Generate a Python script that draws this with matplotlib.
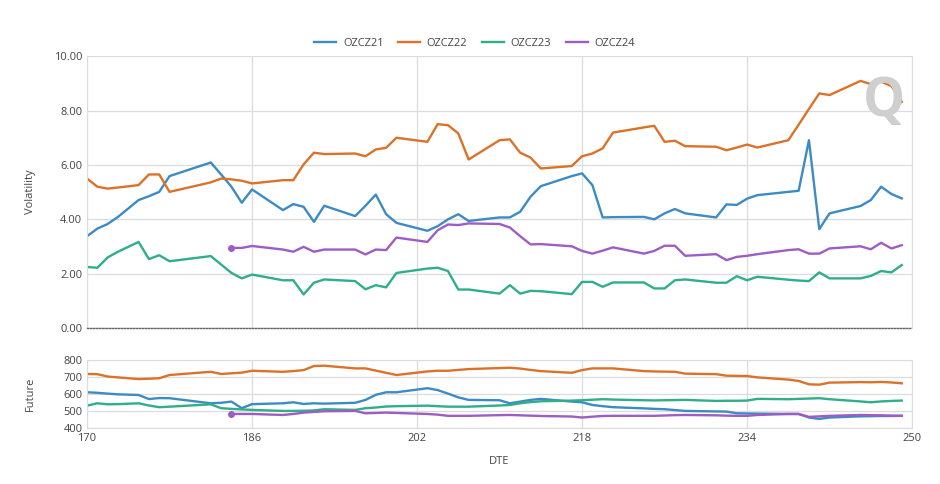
import numpy as np
import matplotlib

matplotlib.use("Agg")
from matplotlib import pyplot as plt

nan = np.nan

# trading days (days to expiry)
dte = [170, 171, 172, 173, 175, 176, 177, 178, 182, 183, 184, 185, 186, 189, 190, 191, 192, 193,
       196, 197, 198, 199, 200, 203, 204, 205, 206, 207, 210, 211, 212, 213, 214, 217, 218, 219,
       220, 221, 224, 225, 226, 227, 228, 231, 232, 233, 234, 235, 238, 239, 240, 241, 242, 245,
       246, 247, 248, 249]

series_names = ["OZCZ21", "OZCZ22", "OZCZ23", "OZCZ24"]

# implied volatility
vol_z21 = [3.38, 3.66, 3.83, 4.09, 4.71, 4.85, 5.01, 5.59, 6.09, 5.65, 5.20, 4.61, 5.10, 4.34, 4.56,
           4.46, 3.91, 4.50, 4.12, 4.50, 4.91, 4.19, 3.87, 3.58, 3.75, 4.00, 4.19, 3.94, 4.07, 4.07,
           4.28, 4.83, 5.22, 5.59, 5.69, 5.26, 4.07, 4.08, 4.09, 4.00, 4.22, 4.38, 4.22, 4.07, 4.55,
           4.53, 4.76, 4.89, 5.01, 5.05, 6.91, 3.64, 4.22, 4.49, 4.71, 5.20, 4.93, 4.77]
vol_z22 = [5.50, 5.20, 5.13, 5.17, 5.26, 5.65, 5.65, 5.01, 5.36, 5.50, 5.47, 5.42, 5.32, 5.44, 5.44,
           6.02, 6.45, 6.40, 6.42, 6.32, 6.57, 6.63, 7.00, 6.85, 7.50, 7.46, 7.16, 6.20, 6.91, 6.94,
           6.45, 6.27, 5.87, 5.96, 6.32, 6.42, 6.61, 7.19, 7.38, 7.44, 6.85, 6.89, 6.69, 6.67, 6.54,
           6.64, 6.75, 6.64, 6.91, 7.48, 8.06, 8.63, 8.57, 9.09, 8.97, 9.06, 8.90, 8.32]
vol_z23 = [2.25, 2.22, 2.60, 2.81, 3.17, 2.54, 2.68, 2.46, 2.65, 2.34, 2.03, 1.83, 1.97, 1.76, 1.76,
           1.24, 1.67, 1.79, 1.73, 1.43, 1.58, 1.50, 2.03, 2.19, 2.22, 2.10, 1.42, 1.42, 1.27, 1.58,
           1.27, 1.37, 1.36, 1.25, 1.70, 1.70, 1.52, 1.68, 1.68, 1.46, 1.46, 1.76, 1.79, 1.67, 1.67,
           1.91, 1.76, 1.89, 1.78, 1.75, 1.73, 2.05, 1.83, 1.83, 1.92, 2.10, 2.05, 2.32]
vol_z24 = [nan, nan, nan, nan, nan, nan, nan, nan, nan, nan, 2.95, 2.95, 3.02, 2.89, 2.81,
           2.99, 2.81, 2.89, 2.89, 2.71, 2.89, 2.87, 3.33, 3.17, 3.60, 3.81, 3.79, 3.85, 3.83, 3.70,
           3.38, 3.08, 3.09, 3.01, 2.84, 2.74, 2.85, 2.97, 2.74, 2.84, 3.03, 3.03, 2.66, 2.72, 2.50,
           2.62, 2.66, 2.72, 2.87, 2.90, 2.74, 2.74, 2.93, 3.01, 2.90, 3.14, 2.93, 3.05]

# futures price
fut_z21 = [610, 607, 602, 598, 594, 570, 576, 575, 545, 548, 555, 516, 540, 545, 551, 541, 545, 543,
           548, 565, 595, 610, 610, 634, 623, 602, 580, 565, 563, 545, 555, 565, 571, 555, 551, 535,
           528, 522, 515, 512, 510, 505, 500, 497, 496, 486, 485, 484, 482, 482, 461, 453, 461, 468,
           469, 470, 470, 471]
fut_z22 = [718, 717, 703, 698, 688, 690, 693, 712, 731, 718, 722, 726, 737, 731, 735, 741, 765, 767,
           751, 751, 738, 725, 712, 733, 737, 737, 742, 747, 753, 755, 750, 742, 735, 725, 741, 751,
           751, 751, 735, 733, 732, 731, 720, 717, 708, 707, 706, 698, 685, 677, 657, 655, 667, 670,
           669, 671, 668, 663]
fut_z23 = [531, 545, 539, 540, 545, 532, 522, 525, 539, 516, 512, 509, 506, 500, 500, 501, 503, 510,
           506, 516, 520, 526, 528, 531, 528, 525, 525, 525, 532, 535, 545, 552, 557, 561, 563, 566,
           569, 567, 563, 562, 563, 564, 565, 559, 560, 560, 561, 571, 569, 571, 573, 575, 569, 556,
           551, 556, 559, 561]
fut_z24 = [nan, nan, nan, nan, nan, nan, nan, nan, nan, nan, 482, 482, 482, 476, 482, 490, 494, 498,
           500, 486, 488, 490, 488, 482, 478, 471, 471, 471, 475, 476, 474, 472, 470, 467, 461, 466,
           470, 471, 471, 471, 473, 475, 476, 474, 472, 471, 471, 476, 482, 482, 465, 468, 471, 476,
           475, 474, 472, 471]

colors = ["#3d8bc4", "#db7228", "#2fae8a", "#9d5dc3"]
x_ticks = [170, 186, 202, 218, 234, 250]
vol_ticks = [0, 2, 4, 6, 8, 10]
fut_ticks = [400, 500, 600, 700, 800]

plt.rcParams["font.family"] = ["Open Sans", "DejaVu Sans"]
grid_c = "#dcdcdc"
text_c = "#444444"

fig = plt.figure(figsize=(9.4, 4.84), dpi=100)
ax1 = fig.add_axes([0.0926, 0.322, 0.8777, 0.562])
ax2 = fig.add_axes([0.0926, 0.116, 0.8777, 0.140])

vols = [vol_z21, vol_z22, vol_z23, vol_z24]
futs = [fut_z21, fut_z22, fut_z23, fut_z24]

for name, v, f, c in zip(series_names, vols, futs, colors):
    ax1.plot(dte, v, color=c, lw=1.7, label=name, solid_joinstyle="round")
    ax2.plot(dte, f, color=c, lw=1.7, solid_joinstyle="round")

# OZCZ24 starts later, mark its first point
first = int(np.where(~np.isnan(vol_z24))[0][0])
ax1.plot(dte[first], vol_z24[first], "o", color=colors[3], ms=4)
ax2.plot(dte[first], fut_z24[first], "o", color=colors[3], ms=4)

for ax in (ax1, ax2):
    ax.set_xlim(170, 250)
    ax.set_xticks(x_ticks)
    ax.grid(True, color=grid_c, lw=0.9)
    ax.set_axisbelow(True)
    for s in ax.spines.values():
        s.set_color(grid_c)
    ax.tick_params(length=0, colors=text_c, labelsize=8)

ax1.set_ylim(0, 10)
ax1.set_yticks(vol_ticks)
ax1.set_yticklabels(["%.2f" % t for t in vol_ticks])
ax1.tick_params(axis="x", labelbottom=False)
ax1.spines["bottom"].set_color("#666666")
ax1.spines["bottom"].set_linestyle((0, (1, 1.2)))
ax1.spines["bottom"].set_linewidth(1.0)
ax1.spines["top"].set_visible(False)
ax1.set_ylabel("Volatility", color=text_c, fontsize=8, labelpad=13)

ax2.set_ylim(400, 800)
ax2.set_yticks(fut_ticks)
ax2.set_ylabel("Future", color=text_c, fontsize=8, labelpad=20)
ax2.set_xlabel("DTE", color=text_c, fontsize=8, labelpad=8)
ax2.tick_params(axis="x", pad=4)
ax2.tick_params(axis="y", pad=3)

fig.legend(loc="center", bbox_to_anchor=(0.505, 0.91), ncol=4, frameon=False,
           fontsize=8, handlelength=2.0, handletextpad=0.6, columnspacing=1.3,
           labelcolor=text_c)

# watermark
fig.text(0.94, 0.79, "Q", fontsize=38, color="#cfcfcf", fontweight="bold",
         ha="center", va="center", zorder=0)

fig.savefig("out.png", dpi=100)
